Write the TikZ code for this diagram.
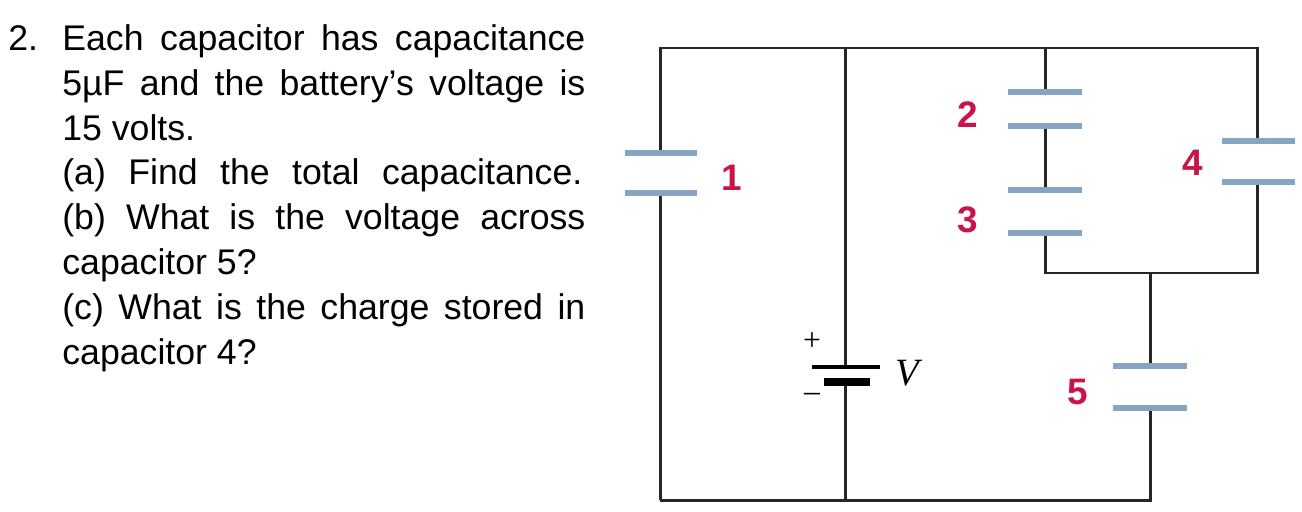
\documentclass[tikz,border=0pt]{standalone}
\usepackage{fontspec}
\setmainfont{Liberation Sans}
\begin{document}
\begin{tikzpicture}[x=0.02cm,y=-0.02cm,
  wire/.style={line width=1.7pt,black!85},
  plate/.style={line width=3pt,color={rgb,255:red,135;green,165;blue,195}},
  lbl/.style={font=\bfseries\fontsize{21}{21}\selectfont,text={rgb,255:red,200;green,20;blue,75}},
  txt/.style={anchor=base west,inner sep=0,font=\fontsize{20.3}{22}\selectfont}]
\useasboundingbox (0,0) rectangle (1302,511);
% text
\node[txt] (t0) at (8,50) {2.};
\node[txt] (t1) at (62,50) {\makebox[523\dimexpr0.02cm\relax][s]{Each capacitor has capacitance}};
\node[txt] (t2) at (62,95) {\makebox[523\dimexpr0.02cm\relax][s]{5µF and the battery’s voltage is}};
\node[txt] (t3) at (62,140) {15 volts.};
\node[txt] (t4) at (62,184) {\makebox[520\dimexpr0.02cm\relax][s]{(a) Find the total capacitance.}};
\node[txt] (t5) at (62,229) {\makebox[523\dimexpr0.02cm\relax][s]{(b) What is the voltage across}};
\node[txt] (t6) at (62,274) {capacitor 5?};
\node[txt] (t7) at (62,319) {\makebox[523\dimexpr0.02cm\relax][s]{(c) What is the charge stored in}};
\node[txt] (t8) at (62,364) {capacitor 4?};
% coordinates
\coordinate (tl) at (660,48); \coordinate (tm) at (845,48);
\coordinate (tr1) at (1045,48); \coordinate (tr2) at (1257,48);
\coordinate (bl) at (660,500); \coordinate (bm) at (845,500); \coordinate (br) at (1150,500);
\coordinate (rb1) at (1045,273); \coordinate (rb2) at (1257,273); \coordinate (rb) at (1150,273);
% wires
\draw[wire] (bl) -- (660,193); \draw[wire] (660,153) -- (tl) -- (tr2) -- (1257,141);
\draw[wire] (1257,182) -- (rb2) -- (rb1) -- (1045,233);
\draw[wire] (1045,190) -- (1045,126); \draw[wire] (1045,92) -- (tr1);
\draw[wire] (tm) -- (845,367); \draw[wire] (845,382) -- (bm);
\draw[wire] (bl) -- (br) -- (1150,408); \draw[wire] (1150,366) -- (rb);
% plates
\draw[plate] (625,153) -- (697,153); \draw[plate] (625,193) -- (697,193);
\draw[plate] (1008,92) -- (1082,92); \draw[plate] (1008,126) -- (1082,126);
\draw[plate] (1008,190) -- (1082,190); \draw[plate] (1008,233) -- (1082,233);
\draw[plate] (1222,141) -- (1295,141); \draw[plate] (1222,182) -- (1295,182);
\draw[plate] (1113,366) -- (1187,366); \draw[plate] (1113,408) -- (1187,408);
% battery
\draw[line width=2.2pt] (812,367) -- (880,367);
\draw[line width=5pt] (824,382) -- (870,382);
\node[font=\fontsize{18}{18}\selectfont,inner sep=0] (plus) at (812,342) {\fontspec{Liberation Serif}+};
\node[font=\fontsize{18}{18}\selectfont,inner sep=0] (minus) at (812,397) {\fontspec{Liberation Serif}\textendash};
\node[font=\fontsize{22}{22}\selectfont\itshape,inner sep=0] (V) at (907,373) {\fontspec{Liberation Serif}V};
% labels
\node[lbl] (l1) at (732,178) {1};
\node[lbl] (l2) at (968,115) {2};
\node[lbl] (l3) at (968,220) {3};
\node[lbl] (l4) at (1193,163) {4};
\node[lbl] (l5) at (1078,392) {5};
\end{tikzpicture}
\end{document}
